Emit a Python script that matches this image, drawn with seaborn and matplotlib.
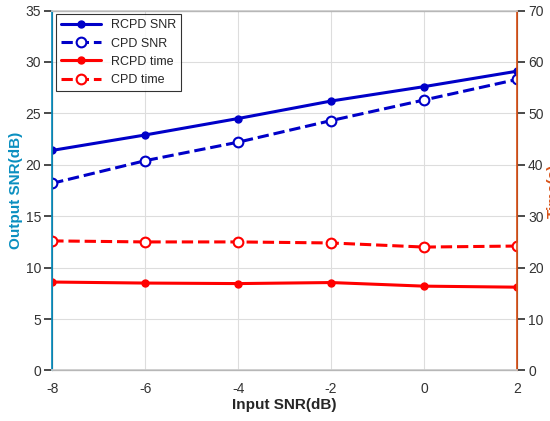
import matplotlib
matplotlib.use("Agg")
import matplotlib.pyplot as plt
import numpy as np
import seaborn as sns

# Data
input_snr = [-8, -6, -4, -2, 0, 2]
rcpd_snr = [21.4, 22.9, 24.5, 26.2, 27.6, 29.1]
cpd_snr = [18.2, 20.4, 22.2, 24.3, 26.3, 28.3]
rcpd_time = [17.2, 17.0, 16.9, 17.1, 16.4, 16.2]
cpd_time = [25.2, 25.0, 25.0, 24.8, 24.0, 24.2]

sns.set_theme(style="whitegrid")
plt.rcParams['font.family'] = ['Arial', 'Liberation Sans', 'DejaVu Sans']
plt.rcParams['axes.unicode_minus'] = False

fig = plt.figure(figsize=(5.5, 4.21), dpi=100)
ax = fig.add_axes([0.095, 0.12, 0.845, 0.855])
ax2 = ax.twinx()

blue = '#0000c8'
red = '#ff0000'
left_c = '#0a8fc0'
right_c = '#d95319'

l1, = ax.plot(input_snr, rcpd_snr, '-o', color=blue, lw=2.2, ms=5, label='RCPD SNR')
l2, = ax.plot(input_snr, cpd_snr, '--o', color=blue, lw=2.2, ms=7, mfc='white', mew=1.5, label='CPD SNR')
l3, = ax2.plot(input_snr, rcpd_time, '-o', color=red, lw=2.2, ms=5, label='RCPD time')
l4, = ax2.plot(input_snr, cpd_time, '--o', color=red, lw=2.2, ms=7, mfc='white', mew=1.5, label='CPD time')

ax.set_xlim(-8, 2)
ax.set_ylim(0, 35)
ax2.set_ylim(0, 70)
ax.set_xticks(input_snr)
ax.set_yticks(np.arange(0, 36, 5))
ax2.set_yticks(np.arange(0, 71, 10))
ax2.grid(False)
ax.grid(True, color='#dddddd', lw=0.8)
ax.set_facecolor('white')

ax.set_xlabel('Input SNR(dB)', fontsize=11, fontweight='bold', labelpad=2)
ax.set_ylabel('Output SNR(dB)', fontsize=11, fontweight='bold', color=left_c, labelpad=2)
ax2.set_ylabel('Time(s)', fontsize=11, fontweight='bold', color=right_c, labelpad=2)
ax.tick_params(axis='both', labelsize=10, pad=2, colors='#333333')
ax2.tick_params(axis='y', labelsize=10, colors='#333333', pad=2)
for s in ax.spines.values():
    s.set_color('#333333')
    s.set_linewidth(0.8)
ax2.spines['right'].set_color(right_c)
ax2.spines['left'].set_color(left_c)

leg = ax.legend(handles=[l1, l2, l3, l4], loc='upper left', fontsize=9,
                frameon=True, fancybox=False, edgecolor='black',
                handlelength=3.2, borderaxespad=0.3)
leg.get_frame().set_linewidth(0.8)

fig.savefig('out.png', dpi=100)
